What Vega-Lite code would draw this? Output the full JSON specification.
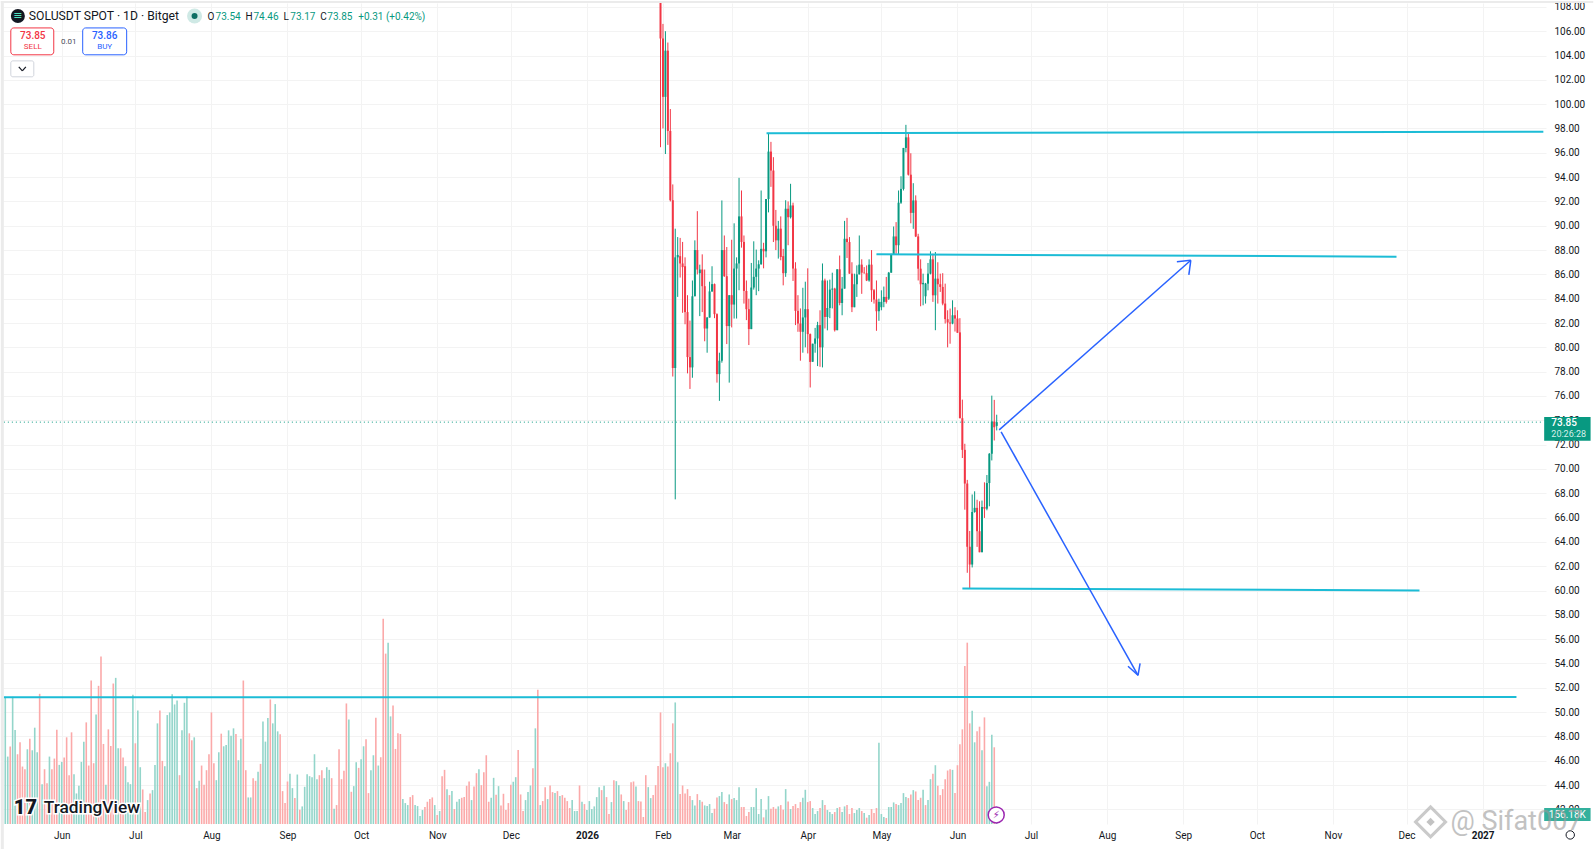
{
"$schema":"https://vega.github.io/schema/vega-lite/v6.json",
"width":1595,"height":850,
"autosize":{"type":"fit","contains":"padding"},
"padding":0,
"background":"white",
"config":{"view":{"stroke":null},"font":"Roboto"},
"datasets":{
"volume":[
{"d":"2025-05-09","v":1149,"s":"u"},{"d":"2025-05-10","v":609,"s":"u"},{"d":"2025-05-11","v":699,"s":"d"},{"d":"2025-05-12","v":1149,"s":"u"},{"d":"2025-05-13","v":849,"s":"u"},{"d":"2025-05-14","v":630,"s":"d"},{"d":"2025-05-15","v":738,"s":"d"},{"d":"2025-05-16","v":519,"s":"d"},{"d":"2025-05-17","v":495,"s":"d"},{"d":"2025-05-18","v":675,"s":"u"},{"d":"2025-05-19","v":771,"s":"d"},{"d":"2025-05-20","v":666,"s":"u"},{"d":"2025-05-21","v":870,"s":"u"},{"d":"2025-05-22","v":648,"s":"u"},{"d":"2025-05-23","v":1176,"s":"d"},{"d":"2025-05-24","v":360,"s":"u"},{"d":"2025-05-25","v":495,"s":"d"},{"d":"2025-05-26","v":369,"s":"d"},{"d":"2025-05-27","v":609,"s":"u"},{"d":"2025-05-28","v":495,"s":"d"},{"d":"2025-05-29","v":591,"s":"d"},{"d":"2025-05-30","v":852,"s":"d"},{"d":"2025-05-31","v":534,"s":"u"},
{"d":"2025-06-01","v":561,"s":"u"},{"d":"2025-06-02","v":600,"s":"d"},{"d":"2025-06-03","v":783,"s":"d"},{"d":"2025-06-04","v":441,"s":"d"},{"d":"2025-06-05","v":828,"s":"d"},{"d":"2025-06-06","v":450,"s":"u"},{"d":"2025-06-07","v":276,"s":"u"},{"d":"2025-06-08","v":345,"s":"u"},{"d":"2025-06-09","v":561,"s":"u"},{"d":"2025-06-10","v":744,"s":"u"},{"d":"2025-06-11","v":918,"s":"d"},{"d":"2025-06-12","v":528,"s":"d"},{"d":"2025-06-13","v":1296,"s":"d"},{"d":"2025-06-14","v":549,"s":"d"},{"d":"2025-06-15","v":990,"s":"u"},{"d":"2025-06-16","v":1248,"s":"d"},{"d":"2025-06-17","v":1512,"s":"d"},{"d":"2025-06-18","v":723,"s":"d"},{"d":"2025-06-19","v":354,"s":"u"},{"d":"2025-06-20","v":855,"s":"d"},{"d":"2025-06-21","v":705,"s":"d"},{"d":"2025-06-22","v":1269,"s":"d"},{"d":"2025-06-23","v":1320,"s":"u"},{"d":"2025-06-24","v":684,"s":"u"},{"d":"2025-06-25","v":684,"s":"d"},{"d":"2025-06-26","v":600,"s":"d"},{"d":"2025-06-27","v":522,"s":"u"},{"d":"2025-06-28","v":378,"s":"u"},{"d":"2025-06-29","v":360,"s":"u"},{"d":"2025-06-30","v":1167,"s":"u"},
{"d":"2025-07-01","v":729,"s":"d"},{"d":"2025-07-02","v":1026,"s":"u"},{"d":"2025-07-03","v":513,"s":"u"},{"d":"2025-07-04","v":312,"s":"d"},{"d":"2025-07-05","v":108,"s":"d"},{"d":"2025-07-06","v":216,"s":"u"},{"d":"2025-07-07","v":276,"s":"d"},{"d":"2025-07-08","v":306,"s":"u"},{"d":"2025-07-09","v":534,"s":"u"},{"d":"2025-07-10","v":909,"s":"u"},{"d":"2025-07-11","v":1026,"s":"d"},{"d":"2025-07-12","v":570,"s":"d"},{"d":"2025-07-13","v":522,"s":"u"},{"d":"2025-07-14","v":984,"s":"u"},{"d":"2025-07-15","v":1008,"s":"u"},{"d":"2025-07-16","v":1173,"s":"u"},{"d":"2025-07-17","v":1080,"s":"u"},{"d":"2025-07-18","v":1116,"s":"u"},{"d":"2025-07-19","v":441,"s":"d"},{"d":"2025-07-20","v":846,"s":"u"},{"d":"2025-07-21","v":1095,"s":"u"},{"d":"2025-07-22","v":1152,"s":"u"},{"d":"2025-07-23","v":819,"s":"d"},{"d":"2025-07-24","v":756,"s":"d"},{"d":"2025-07-25","v":783,"s":"u"},{"d":"2025-07-26","v":324,"s":"d"},{"d":"2025-07-27","v":390,"s":"u"},{"d":"2025-07-28","v":528,"s":"d"},{"d":"2025-07-29","v":354,"s":"d"},{"d":"2025-07-30","v":486,"s":"d"},{"d":"2025-07-31","v":630,"s":"d"},
{"d":"2025-08-01","v":1008,"s":"d"},{"d":"2025-08-02","v":549,"s":"d"},{"d":"2025-08-03","v":396,"s":"u"},{"d":"2025-08-04","v":648,"s":"u"},{"d":"2025-08-05","v":816,"s":"d"},{"d":"2025-08-06","v":702,"s":"u"},{"d":"2025-08-07","v":714,"s":"u"},{"d":"2025-08-08","v":846,"s":"u"},{"d":"2025-08-09","v":798,"s":"u"},{"d":"2025-08-10","v":864,"s":"u"},{"d":"2025-08-11","v":813,"s":"d"},{"d":"2025-08-12","v":576,"s":"u"},{"d":"2025-08-13","v":771,"s":"u"},{"d":"2025-08-14","v":1296,"s":"d"},{"d":"2025-08-15","v":486,"s":"d"},{"d":"2025-08-16","v":240,"s":"u"},{"d":"2025-08-17","v":240,"s":"u"},{"d":"2025-08-18","v":414,"s":"d"},{"d":"2025-08-19","v":390,"s":"d"},{"d":"2025-08-20","v":471,"s":"u"},{"d":"2025-08-21","v":543,"s":"d"},{"d":"2025-08-22","v":927,"s":"u"},{"d":"2025-08-23","v":744,"s":"u"},{"d":"2025-08-24","v":957,"s":"u"},{"d":"2025-08-25","v":1125,"s":"d"},{"d":"2025-08-26","v":909,"s":"u"},{"d":"2025-08-27","v":1083,"s":"u"},{"d":"2025-08-28","v":837,"s":"u"},{"d":"2025-08-29","v":810,"s":"d"},{"d":"2025-08-30","v":297,"s":"d"},{"d":"2025-08-31","v":189,"s":"d"},
{"d":"2025-09-01","v":384,"s":"d"},{"d":"2025-09-02","v":453,"s":"u"},{"d":"2025-09-03","v":324,"s":"u"},{"d":"2025-09-04","v":234,"s":"d"},{"d":"2025-09-05","v":447,"s":"u"},{"d":"2025-09-06","v":129,"s":"d"},{"d":"2025-09-07","v":159,"s":"u"},{"d":"2025-09-08","v":336,"s":"u"},{"d":"2025-09-09","v":450,"s":"u"},{"d":"2025-09-10","v":432,"s":"u"},{"d":"2025-09-11","v":423,"s":"u"},{"d":"2025-09-12","v":630,"s":"u"},{"d":"2025-09-13","v":405,"s":"u"},{"d":"2025-09-14","v":441,"s":"d"},{"d":"2025-09-15","v":486,"s":"d"},{"d":"2025-09-16","v":414,"s":"u"},{"d":"2025-09-17","v":513,"s":"u"},{"d":"2025-09-18","v":489,"s":"u"},{"d":"2025-09-19","v":414,"s":"d"},{"d":"2025-09-20","v":138,"s":"u"},{"d":"2025-09-21","v":171,"s":"d"},{"d":"2025-09-22","v":675,"s":"d"},{"d":"2025-09-23","v":405,"s":"d"},{"d":"2025-09-24","v":480,"s":"d"},{"d":"2025-09-25","v":1089,"s":"d"},{"d":"2025-09-26","v":945,"s":"u"},{"d":"2025-09-27","v":291,"s":"d"},{"d":"2025-09-28","v":342,"s":"u"},{"d":"2025-09-29","v":558,"s":"u"},{"d":"2025-09-30","v":507,"s":"d"},
{"d":"2025-10-01","v":585,"s":"u"},{"d":"2025-10-02","v":702,"s":"u"},{"d":"2025-10-03","v":765,"s":"d"},{"d":"2025-10-04","v":279,"s":"d"},{"d":"2025-10-05","v":486,"s":"u"},{"d":"2025-10-06","v":621,"s":"u"},{"d":"2025-10-07","v":960,"s":"d"},{"d":"2025-10-08","v":528,"s":"u"},{"d":"2025-10-09","v":603,"s":"d"},{"d":"2025-10-10","v":1854,"s":"d"},{"d":"2025-10-11","v":1539,"s":"d"},{"d":"2025-10-12","v":1638,"s":"u"},{"d":"2025-10-13","v":972,"s":"u"},{"d":"2025-10-14","v":1071,"s":"d"},{"d":"2025-10-15","v":678,"s":"d"},{"d":"2025-10-16","v":819,"s":"d"},{"d":"2025-10-17","v":813,"s":"d"},{"d":"2025-10-18","v":225,"s":"u"},{"d":"2025-10-19","v":189,"s":"u"},{"d":"2025-10-20","v":171,"s":"u"},{"d":"2025-10-21","v":243,"s":"d"},{"d":"2025-10-22","v":261,"s":"d"},{"d":"2025-10-23","v":171,"s":"u"},{"d":"2025-10-24","v":162,"s":"u"},{"d":"2025-10-25","v":72,"s":"u"},{"d":"2025-10-26","v":126,"s":"u"},{"d":"2025-10-27","v":153,"s":"d"},{"d":"2025-10-28","v":201,"s":"d"},{"d":"2025-10-29","v":225,"s":"d"},{"d":"2025-10-30","v":240,"s":"d"},{"d":"2025-10-31","v":171,"s":"u"},
{"d":"2025-11-01","v":81,"s":"d"},{"d":"2025-11-02","v":117,"s":"u"},{"d":"2025-11-03","v":432,"s":"d"},{"d":"2025-11-04","v":489,"s":"d"},{"d":"2025-11-05","v":315,"s":"u"},{"d":"2025-11-06","v":261,"s":"d"},{"d":"2025-11-07","v":297,"s":"u"},{"d":"2025-11-08","v":135,"s":"d"},{"d":"2025-11-09","v":201,"s":"u"},{"d":"2025-11-10","v":225,"s":"u"},{"d":"2025-11-11","v":237,"s":"d"},{"d":"2025-11-12","v":243,"s":"d"},{"d":"2025-11-13","v":345,"s":"d"},{"d":"2025-11-14","v":384,"s":"d"},{"d":"2025-11-15","v":216,"s":"u"},{"d":"2025-11-16","v":339,"s":"d"},{"d":"2025-11-17","v":459,"s":"d"},{"d":"2025-11-18","v":495,"s":"u"},{"d":"2025-11-19","v":351,"s":"d"},{"d":"2025-11-20","v":468,"s":"d"},{"d":"2025-11-21","v":621,"s":"d"},{"d":"2025-11-22","v":201,"s":"d"},{"d":"2025-11-23","v":237,"s":"u"},{"d":"2025-11-24","v":417,"s":"u"},{"d":"2025-11-25","v":264,"s":"d"},{"d":"2025-11-26","v":342,"s":"u"},{"d":"2025-11-27","v":168,"s":"d"},{"d":"2025-11-28","v":273,"s":"d"},{"d":"2025-11-29","v":126,"s":"d"},{"d":"2025-11-30","v":189,"s":"d"},
{"d":"2025-12-01","v":354,"s":"d"},{"d":"2025-12-02","v":381,"s":"u"},{"d":"2025-12-03","v":423,"s":"u"},{"d":"2025-12-04","v":669,"s":"d"},{"d":"2025-12-05","v":267,"s":"d"},{"d":"2025-12-06","v":117,"s":"d"},{"d":"2025-12-07","v":216,"s":"u"},{"d":"2025-12-08","v":288,"s":"u"},{"d":"2025-12-09","v":348,"s":"u"},{"d":"2025-12-10","v":504,"s":"d"},{"d":"2025-12-11","v":864,"s":"u"},{"d":"2025-12-12","v":1212,"s":"d"},{"d":"2025-12-13","v":171,"s":"u"},{"d":"2025-12-14","v":207,"s":"d"},{"d":"2025-12-15","v":333,"s":"d"},{"d":"2025-12-16","v":225,"s":"u"},{"d":"2025-12-17","v":348,"s":"d"},{"d":"2025-12-18","v":288,"s":"d"},{"d":"2025-12-19","v":279,"s":"u"},{"d":"2025-12-20","v":297,"s":"d"},{"d":"2025-12-21","v":252,"s":"u"},{"d":"2025-12-22","v":261,"s":"d"},{"d":"2025-12-23","v":237,"s":"d"},{"d":"2025-12-24","v":207,"s":"d"},{"d":"2025-12-25","v":144,"s":"d"},{"d":"2025-12-26","v":216,"s":"u"},{"d":"2025-12-27","v":117,"s":"u"},{"d":"2025-12-28","v":117,"s":"u"},{"d":"2025-12-29","v":348,"s":"d"},{"d":"2025-12-30","v":201,"s":"u"},{"d":"2025-12-31","v":180,"s":"d"},
{"d":"2026-01-01","v":126,"s":"u"},{"d":"2026-01-02","v":207,"s":"u"},{"d":"2026-01-03","v":135,"s":"u"},{"d":"2026-01-04","v":159,"s":"u"},{"d":"2026-01-05","v":243,"s":"u"},{"d":"2026-01-06","v":333,"s":"u"},{"d":"2026-01-07","v":306,"s":"d"},{"d":"2026-01-08","v":345,"s":"u"},{"d":"2026-01-09","v":243,"s":"d"},{"d":"2026-01-10","v":90,"s":"d"},{"d":"2026-01-11","v":198,"s":"u"},{"d":"2026-01-12","v":396,"s":"d"},{"d":"2026-01-13","v":387,"s":"u"},{"d":"2026-01-14","v":351,"s":"u"},{"d":"2026-01-15","v":267,"s":"d"},{"d":"2026-01-16","v":207,"s":"u"},{"d":"2026-01-17","v":126,"s":"d"},{"d":"2026-01-18","v":198,"s":"d"},{"d":"2026-01-19","v":378,"s":"d"},{"d":"2026-01-20","v":384,"s":"d"},{"d":"2026-01-21","v":339,"s":"u"},{"d":"2026-01-22","v":207,"s":"d"},{"d":"2026-01-23","v":204,"s":"d"},{"d":"2026-01-24","v":63,"s":"d"},{"d":"2026-01-25","v":441,"s":"d"},{"d":"2026-01-26","v":333,"s":"u"},{"d":"2026-01-27","v":234,"s":"u"},{"d":"2026-01-28","v":261,"s":"d"},{"d":"2026-01-29","v":351,"s":"d"},{"d":"2026-01-30","v":525,"s":"d"},{"d":"2026-01-31","v":1008,"s":"d"},
{"d":"2026-02-01","v":513,"s":"d"},{"d":"2026-02-02","v":549,"s":"u"},{"d":"2026-02-03","v":519,"s":"d"},{"d":"2026-02-04","v":639,"s":"d"},{"d":"2026-02-05","v":909,"s":"d"},{"d":"2026-02-06","v":1098,"s":"u"},{"d":"2026-02-07","v":558,"s":"u"},{"d":"2026-02-08","v":270,"s":"d"},{"d":"2026-02-09","v":348,"s":"d"},{"d":"2026-02-10","v":276,"s":"d"},{"d":"2026-02-11","v":315,"s":"d"},{"d":"2026-02-12","v":252,"s":"d"},{"d":"2026-02-13","v":216,"s":"u"},{"d":"2026-02-14","v":168,"s":"u"},{"d":"2026-02-15","v":270,"s":"d"},{"d":"2026-02-16","v":216,"s":"u"},{"d":"2026-02-17","v":201,"s":"d"},{"d":"2026-02-18","v":168,"s":"u"},{"d":"2026-02-19","v":162,"s":"u"},{"d":"2026-02-20","v":180,"s":"u"},{"d":"2026-02-21","v":99,"s":"u"},{"d":"2026-02-22","v":138,"s":"d"},{"d":"2026-02-23","v":240,"s":"d"},{"d":"2026-02-24","v":252,"s":"u"},{"d":"2026-02-25","v":288,"s":"u"},{"d":"2026-02-26","v":198,"s":"d"},{"d":"2026-02-27","v":180,"s":"d"},{"d":"2026-02-28","v":267,"s":"u"},
{"d":"2026-03-01","v":225,"s":"d"},{"d":"2026-03-02","v":234,"s":"u"},{"d":"2026-03-03","v":216,"s":"u"},{"d":"2026-03-04","v":333,"s":"u"},{"d":"2026-03-05","v":153,"s":"d"},{"d":"2026-03-06","v":153,"s":"d"},{"d":"2026-03-07","v":72,"s":"d"},{"d":"2026-03-08","v":108,"s":"d"},{"d":"2026-03-09","v":153,"s":"u"},{"d":"2026-03-10","v":153,"s":"u"},{"d":"2026-03-11","v":324,"s":"u"},{"d":"2026-03-12","v":90,"s":"u"},{"d":"2026-03-13","v":225,"s":"u"},{"d":"2026-03-14","v":60,"s":"d"},{"d":"2026-03-15","v":129,"s":"u"},{"d":"2026-03-16","v":252,"s":"u"},{"d":"2026-03-17","v":138,"s":"d"},{"d":"2026-03-18","v":153,"s":"d"},{"d":"2026-03-19","v":138,"s":"d"},{"d":"2026-03-20","v":159,"s":"u"},{"d":"2026-03-21","v":171,"s":"d"},{"d":"2026-03-22","v":129,"s":"d"},{"d":"2026-03-23","v":315,"s":"u"},{"d":"2026-03-24","v":204,"s":"d"},{"d":"2026-03-25","v":135,"s":"u"},{"d":"2026-03-26","v":162,"s":"d"},{"d":"2026-03-27","v":180,"s":"d"},{"d":"2026-03-28","v":144,"s":"d"},{"d":"2026-03-29","v":198,"s":"d"},{"d":"2026-03-30","v":237,"s":"u"},{"d":"2026-03-31","v":309,"s":"u"},
{"d":"2026-04-01","v":198,"s":"d"},{"d":"2026-04-02","v":207,"s":"d"},{"d":"2026-04-03","v":144,"s":"u"},{"d":"2026-04-04","v":90,"s":"u"},{"d":"2026-04-05","v":117,"s":"u"},{"d":"2026-04-06","v":144,"s":"d"},{"d":"2026-04-07","v":216,"s":"u"},{"d":"2026-04-08","v":171,"s":"d"},{"d":"2026-04-09","v":126,"s":"u"},{"d":"2026-04-10","v":108,"s":"u"},{"d":"2026-04-11","v":90,"s":"u"},{"d":"2026-04-12","v":108,"s":"d"},{"d":"2026-04-13","v":144,"s":"u"},{"d":"2026-04-14","v":153,"s":"d"},{"d":"2026-04-15","v":108,"s":"u"},{"d":"2026-04-16","v":159,"s":"u"},{"d":"2026-04-17","v":171,"s":"d"},{"d":"2026-04-18","v":90,"s":"d"},{"d":"2026-04-19","v":144,"s":"d"},{"d":"2026-04-20","v":99,"s":"u"},{"d":"2026-04-21","v":126,"s":"u"},{"d":"2026-04-22","v":144,"s":"u"},{"d":"2026-04-23","v":117,"s":"d"},{"d":"2026-04-24","v":99,"s":"u"},{"d":"2026-04-25","v":57,"s":"d"},{"d":"2026-04-26","v":81,"s":"u"},{"d":"2026-04-27","v":135,"s":"d"},{"d":"2026-04-28","v":99,"s":"d"},{"d":"2026-04-29","v":144,"s":"d"},{"d":"2026-04-30","v":735,"s":"u"},
{"d":"2026-05-01","v":90,"s":"u"},{"d":"2026-05-02","v":63,"s":"u"},{"d":"2026-05-03","v":54,"s":"d"},{"d":"2026-05-04","v":153,"s":"u"},{"d":"2026-05-05","v":153,"s":"u"},{"d":"2026-05-06","v":195,"s":"u"},{"d":"2026-05-07","v":180,"s":"d"},{"d":"2026-05-08","v":171,"s":"u"},{"d":"2026-05-09","v":189,"s":"u"},{"d":"2026-05-10","v":279,"s":"u"},{"d":"2026-05-11","v":243,"s":"u"},{"d":"2026-05-12","v":234,"s":"d"},{"d":"2026-05-13","v":267,"s":"d"},{"d":"2026-05-14","v":306,"s":"u"},{"d":"2026-05-15","v":294,"s":"d"},{"d":"2026-05-16","v":216,"s":"d"},{"d":"2026-05-17","v":237,"s":"d"},{"d":"2026-05-18","v":309,"s":"u"},{"d":"2026-05-19","v":171,"s":"d"},{"d":"2026-05-20","v":216,"s":"u"},{"d":"2026-05-21","v":405,"s":"u"},{"d":"2026-05-22","v":453,"s":"d"},{"d":"2026-05-23","v":531,"s":"u"},{"d":"2026-05-24","v":345,"s":"d"},{"d":"2026-05-25","v":261,"s":"d"},{"d":"2026-05-26","v":315,"s":"d"},{"d":"2026-05-27","v":405,"s":"d"},{"d":"2026-05-28","v":483,"s":"d"},{"d":"2026-05-29","v":495,"s":"d"},{"d":"2026-05-30","v":489,"s":"u"},{"d":"2026-05-31","v":279,"s":"d"},
{"d":"2026-06-01","v":531,"s":"d"},{"d":"2026-06-02","v":720,"s":"d"},{"d":"2026-06-03","v":855,"s":"d"},{"d":"2026-06-04","v":1428,"s":"d"},{"d":"2026-06-05","v":1638,"s":"d"},{"d":"2026-06-06","v":909,"s":"d"},{"d":"2026-06-07","v":1023,"s":"u"},{"d":"2026-06-08","v":738,"s":"u"},{"d":"2026-06-09","v":837,"s":"d"},{"d":"2026-06-10","v":879,"s":"d"},{"d":"2026-06-11","v":666,"s":"u"},{"d":"2026-06-12","v":963,"s":"d"},{"d":"2026-06-13","v":342,"s":"u"},{"d":"2026-06-14","v":381,"s":"u"},{"d":"2026-06-15","v":807,"s":"u"},{"d":"2026-06-16","v":693,"s":"d"},{"d":"2026-06-17","v":156,"s":"u"}
],
"candles":[
{"d":"2026-01-31","o":115,"h":116,"l":96.46,"c":105.4},
{"d":"2026-02-01","o":105.4,"h":106.6,"l":98,"c":100.6},{"d":"2026-02-02","o":100.6,"h":106,"l":95.9,"c":104.4},{"d":"2026-02-03","o":104.4,"h":105.07,"l":96.65,"c":97.8},{"d":"2026-02-04","o":97.8,"h":99.6,"l":92,"c":92.1},{"d":"2026-02-05","o":92.1,"h":93.4,"l":77.6,"c":78.3},{"d":"2026-02-06","o":78.3,"h":89.76,"l":67.5,"c":87.4},{"d":"2026-02-07","o":87.4,"h":89.07,"l":84.15,"c":87.6},{"d":"2026-02-08","o":87.5,"h":89,"l":85.74,"c":86.9},{"d":"2026-02-09","o":86.9,"h":88.67,"l":82.84,"c":86.6},{"d":"2026-02-10","o":86.67,"h":87.4,"l":81.9,"c":82.9},{"d":"2026-02-11","o":82.9,"h":84.29,"l":77.86,"c":79.2},{"d":"2026-02-12","o":79.2,"h":82.2,"l":76.58,"c":78.35},{"d":"2026-02-13","o":78.35,"h":85.5,"l":77.5,"c":84.2},{"d":"2026-02-14","o":84.2,"h":88.8,"l":84.2,"c":88},{"d":"2026-02-15","o":88,"h":91.2,"l":86,"c":86.4},{"d":"2026-02-16","o":86.1,"h":86.8,"l":82.57,"c":86.4},{"d":"2026-02-17","o":86.4,"h":87.65,"l":82.9,"c":85.03},{"d":"2026-02-18","o":85.03,"h":86.4,"l":80.5,"c":81.55},{"d":"2026-02-19","o":81.55,"h":82.5,"l":79.56,"c":82.45},{"d":"2026-02-20","o":82.45,"h":85.4,"l":82.45,"c":84.6},{"d":"2026-02-21","o":84.6,"h":86.67,"l":84.56,"c":85.2},{"d":"2026-02-22","o":85.2,"h":85.25,"l":82.4,"c":82.73},{"d":"2026-02-23","o":82.73,"h":82.8,"l":77.1,"c":77.8},{"d":"2026-02-24","o":77.8,"h":79.56,"l":75.6,"c":78.9},{"d":"2026-02-25","o":78.9,"h":92.08,"l":78.74,"c":88},{"d":"2026-02-26","o":88,"h":89.2,"l":85.8,"c":85.85},{"d":"2026-02-27","o":85.85,"h":88.25,"l":80.27,"c":81.75},{"d":"2026-02-28","o":81.75,"h":84.29,"l":77.1,"c":84.29},
{"d":"2026-03-01","o":84.29,"h":88.85,"l":81.64,"c":83.52},{"d":"2026-03-02","o":83.52,"h":90.2,"l":82.37,"c":86.48},{"d":"2026-03-03","o":86.48,"h":87.4,"l":82.37,"c":86.9},{"d":"2026-03-04","o":86.9,"h":93.94,"l":84.7,"c":90.77},{"d":"2026-03-05","o":90.77,"h":92.9,"l":88.2,"c":88.67},{"d":"2026-03-06","o":88.67,"h":89.2,"l":83.6,"c":84.64},{"d":"2026-03-07","o":84.64,"h":85.5,"l":82.24,"c":83.14},{"d":"2026-03-08","o":83.14,"h":84,"l":80.19,"c":81.5},{"d":"2026-03-09","o":81.5,"h":86.94,"l":81.5,"c":84.92},{"d":"2026-03-10","o":84.92,"h":88.72,"l":84.75,"c":85.8},{"d":"2026-03-11","o":85.8,"h":88.04,"l":84.29,"c":86.48},{"d":"2026-03-12","o":86.48,"h":87.16,"l":84.62,"c":86.83},{"d":"2026-03-13","o":86.83,"h":92.9,"l":86.8,"c":88.1},{"d":"2026-03-14","o":88.1,"h":88.6,"l":86.5,"c":87.9},{"d":"2026-03-15","o":87.9,"h":92.2,"l":87.4,"c":92.2},{"d":"2026-03-16","o":92.2,"h":97.55,"l":91.1,"c":96.1},{"d":"2026-03-17","o":96.1,"h":96.9,"l":93.2,"c":94.54},{"d":"2026-03-18","o":94.54,"h":95.64,"l":88.66,"c":90},{"d":"2026-03-19","o":90,"h":91.3,"l":88,"c":88.8},{"d":"2026-03-20","o":88.8,"h":90.4,"l":87.3,"c":89.76},{"d":"2026-03-21","o":89.76,"h":90.77,"l":87.16,"c":87.43},{"d":"2026-03-22","o":87.5,"h":88.1,"l":85.1,"c":86.1},{"d":"2026-03-23","o":86.1,"h":92.1,"l":85.8,"c":91.4},{"d":"2026-03-24","o":91.4,"h":92,"l":88.4,"c":90.7},{"d":"2026-03-25","o":90.7,"h":93.45,"l":90.6,"c":91.67},{"d":"2026-03-26","o":91.67,"h":91.9,"l":85.46,"c":86.48},{"d":"2026-03-27","o":86.48,"h":87,"l":81.83,"c":83},{"d":"2026-03-28","o":83,"h":84.29,"l":81.28,"c":81.96},{"d":"2026-03-29","o":81.96,"h":83.2,"l":78.9,"c":81.28},{"d":"2026-03-30","o":81.28,"h":84.9,"l":79.56,"c":82.46},{"d":"2026-03-31","o":82.46,"h":85.4,"l":80,"c":83.14},
{"d":"2026-04-01","o":83.14,"h":86.5,"l":79.5,"c":81.09},{"d":"2026-04-02","o":81.09,"h":81.14,"l":76.7,"c":78.8},{"d":"2026-04-03","o":78.82,"h":80.3,"l":78.8,"c":80.3},{"d":"2026-04-04","o":80.3,"h":81.6,"l":79.56,"c":80.73},{"d":"2026-04-05","o":80.73,"h":82.1,"l":78.46,"c":81.83},{"d":"2026-04-06","o":81.83,"h":83.05,"l":78.4,"c":80},{"d":"2026-04-07","o":80,"h":86.9,"l":78.35,"c":85.5},{"d":"2026-04-08","o":85.5,"h":85.65,"l":81.55,"c":82.5},{"d":"2026-04-09","o":82.5,"h":85.5,"l":81.4,"c":83.24},{"d":"2026-04-10","o":83.24,"h":85.57,"l":82.4,"c":84.75},{"d":"2026-04-11","o":84.75,"h":86.14,"l":83.2,"c":84.83},{"d":"2026-04-12","o":84.83,"h":84.9,"l":81.3,"c":81.41},{"d":"2026-04-13","o":81.41,"h":86.42,"l":81.41,"c":86.42},{"d":"2026-04-14","o":86.42,"h":87.55,"l":83.46,"c":83.65},{"d":"2026-04-15","o":83.65,"h":85.79,"l":82.64,"c":84.83},{"d":"2026-04-16","o":84.83,"h":90.4,"l":84.83,"c":88.93},{"d":"2026-04-17","o":88.93,"h":90.65,"l":87.35,"c":88.66},{"d":"2026-04-18","o":88.66,"h":89.07,"l":86.06,"c":86.06},{"d":"2026-04-19","o":86.06,"h":87,"l":82.9,"c":83.3},{"d":"2026-04-20","o":83.3,"h":86.06,"l":83.3,"c":85.19},{"d":"2026-04-21","o":85.19,"h":86.74,"l":84.15,"c":86},{"d":"2026-04-22","o":86,"h":89.2,"l":86,"c":86.8},{"d":"2026-04-23","o":86.8,"h":87.24,"l":84.4,"c":86.14},{"d":"2026-04-24","o":86.14,"h":86.6,"l":86.06,"c":86.1},{"d":"2026-04-25","o":86.1,"h":86.74,"l":85.45,"c":85.5},{"d":"2026-04-26","o":85.5,"h":87.24,"l":85.4,"c":86.8},{"d":"2026-04-27","o":86.8,"h":88,"l":83.74,"c":84.7},{"d":"2026-04-28","o":84.7,"h":84.8,"l":83.6,"c":83.93},{"d":"2026-04-29","o":83.93,"h":85.5,"l":81.36,"c":82.97},{"d":"2026-04-30","o":82.97,"h":84,"l":82.18,"c":83.74},
{"d":"2026-05-01","o":83.3,"h":84.69,"l":83.05,"c":83.74},{"d":"2026-05-02","o":83.74,"h":85,"l":83.3,"c":84.15},{"d":"2026-05-03","o":84.15,"h":85.79,"l":83.6,"c":83.74},{"d":"2026-05-04","o":84,"h":86.2,"l":83.9,"c":86.14},{"d":"2026-05-05","o":86.14,"h":87.7,"l":86.14,"c":87.65},{"d":"2026-05-06","o":87.65,"h":89.94,"l":87.65,"c":89.12},{"d":"2026-05-07","o":89.12,"h":90.3,"l":87.7,"c":88.4},{"d":"2026-05-08","o":88.4,"h":92.9,"l":87.65,"c":91.9},{"d":"2026-05-09","o":91.9,"h":94.07,"l":91.8,"c":93.03},{"d":"2026-05-10","o":93.03,"h":96.4,"l":92.9,"c":96.4},{"d":"2026-05-11","o":96.4,"h":98.3,"l":96.04,"c":97.27},{"d":"2026-05-12","o":97.27,"h":97.55,"l":94.13,"c":94.2},{"d":"2026-05-13","o":94.2,"h":95.96,"l":90.2,"c":91.06},{"d":"2026-05-14","o":91.06,"h":93.5,"l":89.75,"c":92.08},{"d":"2026-05-15","o":92.08,"h":92.5,"l":89.07,"c":89.12},{"d":"2026-05-16","o":89.12,"h":89.34,"l":85.5,"c":86.47},{"d":"2026-05-17","o":86.47,"h":87.24,"l":83.38,"c":85.19},{"d":"2026-05-18","o":85.19,"h":86.06,"l":83.46,"c":85.3},{"d":"2026-05-19","o":84.2,"h":85.3,"l":83.6,"c":85.24},{"d":"2026-05-20","o":85.24,"h":86.94,"l":84.69,"c":86.06},{"d":"2026-05-21","o":86.06,"h":87.9,"l":86,"c":87.24},{"d":"2026-05-22","o":87.24,"h":87.7,"l":83.74,"c":84.28},{"d":"2026-05-23","o":84.28,"h":87.84,"l":81.41,"c":85.65},{"d":"2026-05-24","o":85.65,"h":87,"l":83.6,"c":85.19},{"d":"2026-05-25","o":85.19,"h":86.06,"l":84.56,"c":84.97},{"d":"2026-05-26","o":84.97,"h":86.1,"l":83.46,"c":83.6},{"d":"2026-05-27","o":83.6,"h":85.24,"l":81.96,"c":82.32},{"d":"2026-05-28","o":82.32,"h":83.05,"l":80,"c":82.04},{"d":"2026-05-29","o":82.04,"h":83.19,"l":80.3,"c":81.96},{"d":"2026-05-30","o":81.96,"h":83.87,"l":81.9,"c":82.64},{"d":"2026-05-31","o":82.64,"h":83.3,"l":81.3,"c":82.37},
{"d":"2026-06-01","o":82.37,"h":83.05,"l":81.2,"c":81.2},{"d":"2026-06-02","o":81.23,"h":82.4,"l":74.17,"c":74.17},{"d":"2026-06-03","o":74.17,"h":75.7,"l":70.9,"c":71.57},{"d":"2026-06-04","o":71.57,"h":72.07,"l":66.65,"c":68.8},{"d":"2026-06-05","o":68.8,"h":69.1,"l":61.46,"c":63.6},{"d":"2026-06-06","o":63.6,"h":64.9,"l":60.14,"c":62.14},{"d":"2026-06-07","o":62.14,"h":67.9,"l":61.9,"c":66.46},{"d":"2026-06-08","o":66.46,"h":68.16,"l":66.4,"c":66.8},{"d":"2026-06-09","o":66.8,"h":67.47,"l":63.59,"c":64.88},{"d":"2026-06-10","o":64.88,"h":67.34,"l":63.15,"c":63.15},{"d":"2026-06-11","o":63.15,"h":67.4,"l":63.15,"c":66.87},{"d":"2026-06-12","o":66.87,"h":68.9,"l":65.97,"c":66.73},{"d":"2026-06-13","o":66.73,"h":69.5,"l":66.6,"c":68.84},{"d":"2026-06-14","o":68.84,"h":71.3,"l":66.93,"c":71.25},{"d":"2026-06-15","o":71.25,"h":76.03,"l":70.7,"c":73.9},{"d":"2026-06-16","o":73.9,"h":75.68,"l":72.34,"c":73.43},{"d":"2026-06-17","o":73.54,"h":74.46,"l":73.17,"c":73.85}
],
"lines":[
{"k":"last","d":"2025-05-08T10:00Z","p":73.85,"d2":"2027-01-25T18:00Z","p2":73.85},
{"k":"level","d":"2026-03-15T05:00Z","p":97.6,"d2":"2027-01-25T18:00Z","p2":97.74},
{"k":"level","d":"2026-04-29T00:00Z","p":87.65,"d2":"2026-11-26T22:00Z","p2":87.46},
{"k":"level","d":"2026-06-03T00:00Z","p":60.17,"d2":"2026-12-06T07:00Z","p2":60},
{"k":"level","d":"2025-05-08T10:00Z","p":51.23,"d2":"2027-01-14T19:00Z","p2":51.24},
{"k":"arrow","d":"2026-06-18T00:00Z","p":73.21,"d2":"2026-09-04T02:00Z","p2":87.16},
{"k":"arrow","d":"2026-08-29T10:00Z","p":87.04,"d2":"2026-09-04T02:00Z","p2":87.16},
{"k":"arrow","d":"2026-09-03T07:00Z","p":85.96,"d2":"2026-09-04T02:00Z","p2":87.16},
{"k":"arrow","d":"2026-06-18T19:00Z","p":73.05,"d2":"2026-08-13T14:00Z","p2":53.03},
{"k":"arrow","d":"2026-08-09T12:00Z","p":53.77,"d2":"2026-08-13T14:00Z","p2":53.03},
{"k":"arrow","d":"2026-08-14T10:00Z","p":54,"d2":"2026-08-13T14:00Z","p2":53.03},
{"k":"chev","d":"2025-05-14T12:00Z","p":103.07,"d2":"2025-05-15T23:00Z","p2":102.74},
{"k":"chev","d":"2025-05-17T09:00Z","p":103.07,"d2":"2025-05-15T23:00Z","p2":102.74}
],
"boxes":[
{"k":"frame","d":"2025-05-07T04:42Z","d2":"2025-05-08T10:00Z","p":108.484,"p2":38.75},
{"k":"frame","d":"2025-05-07T04:42Z","d2":"2027-02-15T02:12Z","p":108.484,"p2":108.32},
{"k":"sell","d":"2025-05-11T06:00Z","d2":"2025-05-28T18:00Z","p":106.27,"p2":104.06},
{"k":"buy","d":"2025-06-09T13:00Z","d2":"2025-06-27T11:00Z","p":106.27,"p2":104.06},
{"k":"more","d":"2025-05-11T06:00Z","d2":"2025-05-20T15:00Z","p":103.56,"p2":102.25},
{"k":"tag","d":"2027-01-26T02:00Z","d2":"2027-02-14T00:00Z","p":74.28,"p2":72.31},
{"k":"volTag","d":"2027-01-26T02:00Z","d2":"2027-02-14T00:00Z","p":42.12,"p2":41.05}
],
"dots":[
{"k":"sol","d":"2025-05-14T03:00Z","p":107.25},
{"k":"statusOuter","d":"2025-07-25T03:00Z","p":107.25},
{"k":"statusInner","d":"2025-07-25T03:00Z","p":107.25},
{"k":"flash","d":"2026-06-16T19:00Z","p":41.55},
{"k":"gear","d":"2027-02-05T17:00Z","p":39.9},
{"k":"wmBig","d":"2026-12-10T19:00Z","p":40.97},
{"k":"wmSmall","d":"2026-12-10T19:00Z","p":40.97}
],
"labels":[
{"k":"title","t":"SOLUSDT SPOT · 1D · Bitget","d":"2025-05-18T14:00Z","p":107.25},
{"k":"ohlcName","t":"O","d":"2025-07-30T10:00Z","p":107.2},
{"k":"ohlcValue","t":"73.54","d":"2025-08-02T16:00Z","p":107.2},
{"k":"ohlcName","t":"H","d":"2025-08-14T21:00Z","p":107.2},
{"k":"ohlcValue","t":"74.46","d":"2025-08-18T03:00Z","p":107.2},
{"k":"ohlcName","t":"L","d":"2025-08-30T08:00Z","p":107.2},
{"k":"ohlcValue","t":"73.17","d":"2025-09-02T04:00Z","p":107.2},
{"k":"ohlcName","t":"C","d":"2025-09-14T09:00Z","p":107.2},
{"k":"ohlcValue","t":"73.85","d":"2025-09-17T05:00Z","p":107.2},
{"k":"ohlcValue","t":"+0.31 (+0.42%)","d":"2025-09-29T20:00Z","p":107.2},
{"k":"sellPrice","t":"73.85","d":"2025-05-20T05:00Z","p":105.61},
{"k":"sellText","t":"SELL","d":"2025-05-20T05:00Z","p":104.71},
{"k":"spread","t":"0.01","d":"2025-06-03T21:00Z","p":105.12},
{"k":"buyPrice","t":"73.86","d":"2025-06-18T12:00Z","p":105.61},
{"k":"buyText","t":"BUY","d":"2025-06-18T12:00Z","p":104.71},
{"k":"tagPrice","t":"73.85","d":"2027-01-29T00:00Z","p":73.79},
{"k":"tagTime","t":"20:26:28","d":"2027-01-29T00:00Z","p":72.88},
{"k":"volTag","t":"156.18K","d":"2027-01-28T00:00Z","p":41.55},
{"k":"brand","t":"TradingView","d":"2025-05-24T16:00Z","p":42.12},
{"k":"brandMark","t":"17","d":"2025-05-12T12:00Z","p":42.12},
{"k":"flashIcon","t":"⚡","d":"2026-06-16T19:00Z","p":41.55},
{"k":"sol","t":"≡","d":"2025-05-14T03:00Z","p":107.25},
{"k":"wm","t":"@ Sifat007","d":"2026-12-18T22:00Z","p":40.97}
]
},
"encoding":{
"x":{"field":"d","type":"temporal","title":null,
"scale":{"type":"utc","domain":["2025-05-09T07:00:00Z","2027-01-24T19:00:00Z"]},
"axis":{"tickCount":"month","labelExpr":"utcmonth(datum.value)==0 ? utcFormat(datum.value,'%Y') : utcFormat(datum.value,'%b')",
"labelFontWeight":{"condition":{"test":"utcmonth(datum.value)==0","value":"bold"},"value":"normal"},
"labelFontSize":10,"labelColor":"#131722","labelPadding":6,"labelFlush":false,"labelOverlap":false,"domain":false,"ticks":false,"grid":true,"gridColor":"#f3f3f3","gridWidth":1}}
},
"layer":[
{"data":{"name":"volume"},"mark":{"type":"bar","size":1.6},
"encoding":{"y":{"field":"v","type":"quantitative","title":null,"scale":{"domain":[0,7416],"nice":false,"zero":true},"axis":null},
"color":{"condition":{"test":"datum.s=='u'","value":"#93d5ca"},"value":"#fba9a9"}}},
{"encoding":{"y":{"field":"p","type":"quantitative"}},
"layer":[
{"data":{"name":"candles"},"mark":{"type":"rule","strokeWidth":1,"clip":true},
"encoding":{"y":{"field":"l","type":"quantitative","title":null,"scale":{"domain":[40.8,108.32],"nice":false,"zero":false},
"axis":{"orient":"right","values":[42,44,46,48,50,52,54,56,58,60,62,64,66,68,70,72,74,76,78,80,82,84,86,88,90,92,94,96,98,100,102,104,106,108],"tickCount":40,"format":".2f","labelFontSize":10,"labelColor":"#131722","labelPadding":8,"labelOverlap":false,"domain":false,"ticks":false,"grid":true,"gridColor":"#f3f3f3","gridWidth":1,"title":null}},
"y2":{"field":"h"},"color":{"condition":{"test":"datum.c>=datum.o","value":"#089981"},"value":"#f23645"}}},
{"data":{"name":"candles"},"mark":{"type":"bar","size":2,"clip":true},
"encoding":{"y":{"field":"o","type":"quantitative"},"y2":{"field":"c"},"color":{"condition":{"test":"datum.c>=datum.o","value":"#089981"},"value":"#f23645"}}},
{"data":{"name":"lines"},"transform":[{"filter":"datum.k=='last'"}],"mark":{"type":"rule","stroke":"#089981","strokeWidth":1,"strokeDash":[1,3]},"encoding":{"x2":{"field":"d2"},"y2":{"field":"p2"}}},
{"data":{"name":"lines"},"transform":[{"filter":"datum.k=='level'"}],"mark":{"type":"rule","stroke":"#1cbcd6","strokeWidth":2},"encoding":{"x2":{"field":"d2"},"y2":{"field":"p2"}}},
{"data":{"name":"lines"},"transform":[{"filter":"datum.k=='arrow'"}],"mark":{"type":"rule","stroke":"#2962ff","strokeWidth":1.5},"encoding":{"x2":{"field":"d2"},"y2":{"field":"p2"}}},
{"data":{"name":"boxes"},"transform":[{"filter":"datum.k=='frame'"}],"mark":{"type":"rect","fill":"#ebebeb"},"encoding":{"x2":{"field":"d2"},"y2":{"field":"p2"}}},
{"data":{"name":"boxes"},"transform":[{"filter":"datum.k=='sell'"}],"mark":{"type":"rect","fill":"white","stroke":"#f23645","strokeWidth":1,"cornerRadius":3},"encoding":{"x2":{"field":"d2"},"y2":{"field":"p2"}}},
{"data":{"name":"boxes"},"transform":[{"filter":"datum.k=='buy'"}],"mark":{"type":"rect","fill":"white","stroke":"#2962ff","strokeWidth":1,"cornerRadius":3},"encoding":{"x2":{"field":"d2"},"y2":{"field":"p2"}}},
{"data":{"name":"boxes"},"transform":[{"filter":"datum.k=='more'"}],"mark":{"type":"rect","fill":"white","stroke":"#d1d4dc","strokeWidth":1,"cornerRadius":2},"encoding":{"x2":{"field":"d2"},"y2":{"field":"p2"}}},
{"data":{"name":"boxes"},"transform":[{"filter":"datum.k=='tag'"}],"mark":{"type":"rect","fill":"#089981"},"encoding":{"x2":{"field":"d2"},"y2":{"field":"p2"}}},
{"data":{"name":"boxes"},"transform":[{"filter":"datum.k=='volTag'"}],"mark":{"type":"rect","fill":"#33b09d"},"encoding":{"x2":{"field":"d2"},"y2":{"field":"p2"}}},
{"data":{"name":"lines"},"transform":[{"filter":"datum.k=='chev'"}],"mark":{"type":"rule","stroke":"#131722","strokeWidth":1.2},"encoding":{"x2":{"field":"d2"},"y2":{"field":"p2"}}},
{"data":{"name":"dots"},"transform":[{"filter":"datum.k=='sol'"}],"mark":{"type":"point","shape":"circle","filled":true,"size":196,"color":"#131722","opacity":1}},
{"data":{"name":"dots"},"transform":[{"filter":"datum.k=='statusOuter'"}],"mark":{"type":"point","shape":"circle","filled":true,"size":225,"color":"#cfe9e5","opacity":1}},
{"data":{"name":"dots"},"transform":[{"filter":"datum.k=='statusInner'"}],"mark":{"type":"point","shape":"circle","filled":true,"size":36,"color":"#0d6e63","opacity":1}},
{"data":{"name":"dots"},"transform":[{"filter":"datum.k=='flash'"}],"mark":{"type":"point","shape":"circle","filled":true,"size":256,"fill":"white","stroke":"#9c27b0","strokeWidth":1.5,"opacity":1}},
{"data":{"name":"dots"},"transform":[{"filter":"datum.k=='gear'"}],"mark":{"type":"point","shape":"circle","size":70,"stroke":"#131722","strokeWidth":1,"opacity":1}},
{"data":{"name":"dots"},"transform":[{"filter":"datum.k=='wmBig'"}],"mark":{"type":"point","shape":"diamond","size":900,"stroke":"#a8a8a8","strokeWidth":3,"opacity":0.6}},
{"data":{"name":"dots"},"transform":[{"filter":"datum.k=='wmSmall'"}],"mark":{"type":"point","shape":"diamond","filled":true,"size":70,"color":"#a8a8a8","opacity":0.7}},
{"data":{"name":"labels"},"transform":[{"filter":"datum.k=='title'"}],"mark":{"type":"text","align":"left","baseline":"middle","fontSize":12.2,"color":"#131722"},"encoding":{"text":{"field":"t"}}},
{"data":{"name":"labels"},"transform":[{"filter":"datum.k=='ohlcName'"}],"mark":{"type":"text","align":"left","baseline":"middle","fontSize":10,"color":"#131722"},"encoding":{"text":{"field":"t"}}},
{"data":{"name":"labels"},"transform":[{"filter":"datum.k=='ohlcValue'"}],"mark":{"type":"text","align":"left","baseline":"middle","fontSize":10,"color":"#089981"},"encoding":{"text":{"field":"t"}}},
{"data":{"name":"labels"},"transform":[{"filter":"datum.k=='sellPrice'"}],"mark":{"type":"text","align":"center","baseline":"middle","fontSize":10,"fontWeight":500,"color":"#f23645"},"encoding":{"text":{"field":"t"}}},
{"data":{"name":"labels"},"transform":[{"filter":"datum.k=='sellText'"}],"mark":{"type":"text","align":"center","baseline":"middle","fontSize":8,"color":"#f23645"},"encoding":{"text":{"field":"t"}}},
{"data":{"name":"labels"},"transform":[{"filter":"datum.k=='buyPrice'"}],"mark":{"type":"text","align":"center","baseline":"middle","fontSize":10,"fontWeight":500,"color":"#2962ff"},"encoding":{"text":{"field":"t"}}},
{"data":{"name":"labels"},"transform":[{"filter":"datum.k=='buyText'"}],"mark":{"type":"text","align":"center","baseline":"middle","fontSize":8,"color":"#2962ff"},"encoding":{"text":{"field":"t"}}},
{"data":{"name":"labels"},"transform":[{"filter":"datum.k=='spread'"}],"mark":{"type":"text","align":"center","baseline":"middle","fontSize":8,"color":"#4a4e59"},"encoding":{"text":{"field":"t"}}},
{"data":{"name":"labels"},"transform":[{"filter":"datum.k=='tagPrice'"}],"mark":{"type":"text","align":"left","baseline":"middle","fontSize":10,"fontWeight":500,"color":"white"},"encoding":{"text":{"field":"t"}}},
{"data":{"name":"labels"},"transform":[{"filter":"datum.k=='tagTime'"}],"mark":{"type":"text","align":"left","baseline":"middle","fontSize":9,"color":"#d6f0ea"},"encoding":{"text":{"field":"t"}}},
{"data":{"name":"labels"},"transform":[{"filter":"datum.k=='volTag'"}],"mark":{"type":"text","align":"left","baseline":"middle","fontSize":10,"color":"white"},"encoding":{"text":{"field":"t"}}},
{"data":{"name":"labels"},"transform":[{"filter":"datum.k=='brand'"}],"mark":{"type":"text","align":"left","baseline":"middle","fontSize":17.3,"fontWeight":500,"stroke":"white","strokeWidth":3,"color":"white"},"encoding":{"text":{"field":"t"}}},
{"data":{"name":"labels"},"transform":[{"filter":"datum.k=='brand'"}],"mark":{"type":"text","align":"left","baseline":"middle","fontSize":17.3,"fontWeight":500,"color":"#131722"},"encoding":{"text":{"field":"t"}}},
{"data":{"name":"labels"},"transform":[{"filter":"datum.k=='brandMark'"}],"mark":{"type":"text","align":"left","baseline":"middle","fontSize":20,"fontWeight":900,"stroke":"white","strokeWidth":3,"color":"white"},"encoding":{"text":{"field":"t"}}},
{"data":{"name":"labels"},"transform":[{"filter":"datum.k=='brandMark'"}],"mark":{"type":"text","align":"left","baseline":"middle","fontSize":20,"fontWeight":900,"color":"#131722"},"encoding":{"text":{"field":"t"}}},
{"data":{"name":"labels"},"transform":[{"filter":"datum.k=='flashIcon'"}],"mark":{"type":"text","align":"center","baseline":"middle","fontSize":10,"font":"DejaVu Sans","color":"#9c27b0"},"encoding":{"text":{"field":"t"}}},
{"data":{"name":"labels"},"transform":[{"filter":"datum.k=='sol'"}],"mark":{"type":"text","align":"center","baseline":"middle","fontSize":11,"font":"DejaVu Sans","color":"#4fe3c1"},"encoding":{"text":{"field":"t"}}},
{"data":{"name":"labels"},"transform":[{"filter":"datum.k=='wm'"}],"mark":{"type":"text","align":"left","baseline":"middle","fontSize":27,"color":"#9a9a9a","opacity":0.6},"encoding":{"text":{"field":"t"}}}
]}
],
"resolve":{"scale":{"y":"independent"}}
}
